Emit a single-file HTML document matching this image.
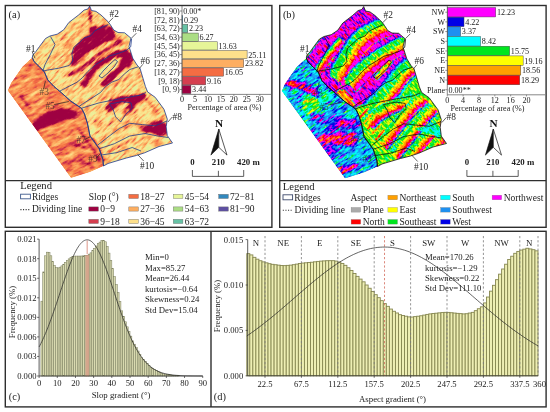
<!DOCTYPE html><html><head><meta charset="utf-8"><title>Slope and aspect</title>
<style>html,body{margin:0;padding:0;background:#fff}svg{display:block}</style></head><body>
<svg width="550" height="412" viewBox="0 0 550 412">
<rect width="550" height="412" fill="#fff"/>
<defs>
<clipPath id="mapclip"><polygon points="7.7,90.5 11.0,83.0 15.9,76.0 22.5,66.5 32.3,57.5 32.8,55.0 36.0,51.4 39.5,46.5 45.5,38.5 50.0,36.0 57.2,34.2 63.7,29.8 68.8,22.5 78.3,15.2 84.1,10.1 87.9,9.0 89.7,6.0 91.5,10.5 96.0,11.4 101.0,15.0 108.2,21.8 110.5,25.0 113.7,30.0 118.0,32.5 124.6,32.8 131.0,38.2 129.0,46.4 132.8,58.3 137.0,65.0 140.0,68.3 145.4,86.4 147.6,91.9 155.2,97.3 164.0,109.3 167.3,119.2 166.2,126.8 167.3,135.6 172.5,143.0 159.0,146.5 144.6,152.8 136.4,155.5 126.4,158.0 108.0,163.5 103.5,166.0 98.0,168.5 90.0,172.0 71.0,178.0"/></clipPath>
<clipPath id="neclip"><polygon points="32.3,57.5 32.8,55.0 36.0,51.4 39.5,46.5 45.5,38.5 50.0,36.0 57.2,34.2 63.7,29.8 68.8,22.5 78.3,15.2 84.1,10.1 87.9,9.0 89.7,6.0 91.5,10.5 96.0,11.4 101.0,15.0 108.2,21.8 110.5,25.0 113.7,30.0 118.0,32.5 124.6,32.8 131.0,38.2 129.0,46.4 132.8,58.3 137.0,65.0 140.0,68.3 145.4,86.4 147.6,91.9 155.2,97.3 164.0,109.3 167.3,119.2 166.2,126.8 167.3,135.6 172.5,143.0 159.0,146.5 144.6,152.8 136.4,155.5 126.4,158.0 108.0,163.5 103.5,166.0 102.9,159.6 99.2,148.7 90.0,136.0 87.4,123.2 84.5,114.0 81.5,108.3 70.6,101.0 61.5,92.8 54.0,86.5 47.8,80.0 44.2,71.5 39.6,67.0 34.0,61.5 32.3,57.5"/></clipPath>
<clipPath id="swclip"><polygon points="7.7,90.5 11.0,83.0 15.9,76.0 22.5,66.5 32.3,57.5 34.0,61.5 39.6,67.0 44.2,71.5 47.8,80.0 54.0,86.5 61.5,92.8 70.6,101.0 81.5,108.3 84.5,114.0 87.4,123.2 90.0,136.0 99.2,148.7 102.9,159.6 103.5,166.0 98.0,168.5 90.0,172.0 71.0,178.0"/></clipPath>
<filter id="fa1" filterUnits="userSpaceOnUse" x="-150" y="-150" width="500" height="500" color-interpolation-filters="sRGB">
<feGaussianBlur in="SourceGraphic" stdDeviation="1.1" result="s"/>
<feTurbulence type="fractalNoise" baseFrequency="0.10 0.5" numOctaves="3" seed="4" result="t"/>
<feColorMatrix in="t" type="matrix" values="1 0 0 0 0  1 0 0 0 0  1 0 0 0 0  0 0 0 0 1" result="n"/>
<feComposite in="s" in2="n" operator="arithmetic" k1="0" k2="1" k3="1.15" k4="-0.575" result="f"/>
<feComponentTransfer in="f"><feFuncR type="table" tableValues="0.620 0.620 0.659 0.835 0.957 0.976 0.992 0.992 0.996 0.949 0.886"/><feFuncG type="table" tableValues="0.004 0.004 0.039 0.243 0.427 0.569 0.682 0.784 0.878 0.933 0.941"/><feFuncB type="table" tableValues="0.259 0.259 0.267 0.310 0.263 0.325 0.380 0.467 0.545 0.596 0.604"/></feComponentTransfer><feGaussianBlur stdDeviation="0.45"/>
</filter>
<filter id="fa2" filterUnits="userSpaceOnUse" x="-150" y="-150" width="500" height="500" color-interpolation-filters="sRGB">
<feGaussianBlur in="SourceGraphic" stdDeviation="1.1" result="s"/>
<feTurbulence type="fractalNoise" baseFrequency="0.12 0.38" numOctaves="3" seed="11" result="t"/>
<feColorMatrix in="t" type="matrix" values="1 0 0 0 0  1 0 0 0 0  1 0 0 0 0  0 0 0 0 1" result="n"/>
<feComposite in="s" in2="n" operator="arithmetic" k1="0" k2="1" k3="0.62" k4="-0.310" result="f"/>
<feComponentTransfer in="f"><feFuncR type="table" tableValues="0.620 0.620 0.659 0.835 0.957 0.976 0.992 0.992 0.996 0.949 0.886"/><feFuncG type="table" tableValues="0.004 0.004 0.039 0.243 0.427 0.569 0.682 0.784 0.878 0.933 0.941"/><feFuncB type="table" tableValues="0.259 0.259 0.267 0.310 0.263 0.325 0.380 0.467 0.545 0.596 0.604"/></feComponentTransfer><feGaussianBlur stdDeviation="0.45"/>
</filter>
<filter id="fb1" filterUnits="userSpaceOnUse" x="-150" y="-150" width="500" height="500" color-interpolation-filters="sRGB">
<feGaussianBlur in="SourceGraphic" stdDeviation="0.7" result="s"/>
<feTurbulence type="fractalNoise" baseFrequency="0.14 0.6" numOctaves="3" seed="7" result="t"/>
<feColorMatrix in="t" type="matrix" values="1 0 0 0 0  1 0 0 0 0  1 0 0 0 0  0 0 0 0 1" result="n"/>
<feComposite in="s" in2="n" operator="arithmetic" k1="0" k2="1" k3="0.42" k4="-0.210" result="f"/>
<feComponentTransfer in="f"><feFuncR type="table" tableValues="1.000 1.000 1.000 1.000 1.000 1.000 1.000 1.000 1.000 1.000 1.000 1.000 1.000 1.000 0.502 0.000 0.000 0.000 0.000 0.000 0.000 0.000 0.059 0.118 0.118 0.118 0.059 0.000 0.000 0.000 0.502 1.000 1.000 1.000 1.000 1.000 1.000 1.000 1.000 1.000 1.000"/><feFuncG type="table" tableValues="0.000 0.000 0.000 0.000 0.000 0.000 0.314 0.627 0.627 0.627 0.816 1.000 1.000 1.000 0.949 0.902 0.902 0.902 0.949 1.000 1.000 1.000 0.784 0.565 0.565 0.565 0.282 0.000 0.000 0.000 0.000 0.000 0.000 0.000 0.000 0.000 0.000 0.000 0.314 0.627 0.627"/><feFuncB type="table" tableValues="1.000 1.000 0.502 0.000 0.000 0.000 0.000 0.000 0.000 0.000 0.000 0.000 0.000 0.000 0.059 0.118 0.118 0.118 0.557 1.000 1.000 1.000 0.973 0.941 0.941 0.941 0.922 0.902 0.902 0.902 0.949 1.000 1.000 1.000 0.502 0.000 0.000 0.000 0.000 0.000 0.000"/></feComponentTransfer><feGaussianBlur stdDeviation="0.45"/>
</filter>
<filter id="fb2" filterUnits="userSpaceOnUse" x="-150" y="-150" width="500" height="500" color-interpolation-filters="sRGB">
<feGaussianBlur in="SourceGraphic" stdDeviation="0.9" result="s"/>
<feTurbulence type="fractalNoise" baseFrequency="0.10 0.5" numOctaves="3" seed="21" result="t"/>
<feColorMatrix in="t" type="matrix" values="1 0 0 0 0  1 0 0 0 0  1 0 0 0 0  0 0 0 0 1" result="n"/>
<feComposite in="s" in2="n" operator="arithmetic" k1="0" k2="1" k3="0.75" k4="-0.375" result="f"/>
<feComponentTransfer in="f"><feFuncR type="table" tableValues="1.000 1.000 1.000 1.000 1.000 1.000 1.000 1.000 1.000 1.000 1.000 1.000 1.000 1.000 0.502 0.000 0.000 0.000 0.000 0.000 0.000 0.000 0.059 0.118 0.118 0.118 0.059 0.000 0.000 0.000 0.502 1.000 1.000 1.000 1.000 1.000 1.000 1.000 1.000 1.000 1.000"/><feFuncG type="table" tableValues="0.000 0.000 0.000 0.000 0.000 0.000 0.314 0.627 0.627 0.627 0.816 1.000 1.000 1.000 0.949 0.902 0.902 0.902 0.949 1.000 1.000 1.000 0.784 0.565 0.565 0.565 0.282 0.000 0.000 0.000 0.000 0.000 0.000 0.000 0.000 0.000 0.000 0.000 0.314 0.627 0.627"/><feFuncB type="table" tableValues="1.000 1.000 0.502 0.000 0.000 0.000 0.000 0.000 0.000 0.000 0.000 0.000 0.000 0.000 0.059 0.118 0.118 0.118 0.557 1.000 1.000 1.000 0.973 0.941 0.941 0.941 0.922 0.902 0.902 0.902 0.949 1.000 1.000 1.000 0.502 0.000 0.000 0.000 0.000 0.000 0.000"/></feComponentTransfer><feGaussianBlur stdDeviation="0.45"/>
</filter>
</defs>
<g clip-path="url(#mapclip)">
<polygon points="7.7,90.5 11.0,83.0 15.9,76.0 22.5,66.5 32.3,57.5 32.8,55.0 36.0,51.4 39.5,46.5 45.5,38.5 50.0,36.0 57.2,34.2 63.7,29.8 68.8,22.5 78.3,15.2 84.1,10.1 87.9,9.0 89.7,6.0 91.5,10.5 96.0,11.4 101.0,15.0 108.2,21.8 110.5,25.0 113.7,30.0 118.0,32.5 124.6,32.8 131.0,38.2 129.0,46.4 132.8,58.3 137.0,65.0 140.0,68.3 145.4,86.4 147.6,91.9 155.2,97.3 164.0,109.3 167.3,119.2 166.2,126.8 167.3,135.6 172.5,143.0 159.0,146.5 144.6,152.8 136.4,155.5 126.4,158.0 108.0,163.5 103.5,166.0 98.0,168.5 90.0,172.0 71.0,178.0" fill="#f7b366"/>
<g clip-path="url(#neclip)"><g transform="rotate(-42 90 90)"><g filter="url(#fa1)"><g transform="rotate(42 90 90)">
<rect x="0" y="0" width="200" height="200" fill="#bfbfbf"/>
<polygon points="90.3,28.7 97.6,27.9 107.5,25.5 112.4,29.5 114.8,35.3 112.4,39.4 104.2,41.8 97.6,45.9 91.1,50.0 84.5,54.1 79.6,59.0 75.5,64.7 72.3,65.6 73.9,57.4 73.1,51.6 76.4,45.9 80.5,40.2 86.2,37.7 90.3,33.6" fill="#000000" stroke="#000000" stroke-width="2.0" stroke-linejoin="round"/>
<path d="M89.7 6 L90.3 21" stroke="#000000" stroke-width="3.4" fill="none" stroke-linecap="round"/>
<path d="M121 40.5 L111 46.5 L102 52 L94.5 58 L87 64 L79.8 69.5 L70 75" stroke="#0d0d0d" stroke-width="3.2" fill="none" stroke-linecap="round"/>
<path d="M127 56 L126 61 L117.5 71 L109.5 79 L104 84" stroke="#000000" stroke-width="6.4" fill="none" stroke-linecap="round" stroke-linejoin="round"/>
<path d="M126 55 L119 53.5 L111 56 L102 62 L94.5 68 L88 77.5 L84 84" stroke="#000000" stroke-width="6.4" fill="none" stroke-linecap="round" stroke-linejoin="round"/>
<path d="M125 53.5 L129.5 58 L126 63" stroke="#000000" stroke-width="9" fill="none" stroke-linecap="round" stroke-linejoin="round"/>
<path d="M101 74 L108.5 67 L114.5 60.5" stroke="#d9d9d9" stroke-width="5" fill="none" stroke-linecap="round"/>
<polygon points="106.3,107.9 111.2,100.5 121.0,97.3 132.5,96.5 142.3,94.0 144.7,96.5 139.0,101.4 134.0,106.3 130.8,109.5 128.4,107.0 131.6,101.4 124.3,100.5 117.7,103.8 112.8,108.7 109.5,111.2" fill="#000000" stroke="#000000" stroke-width="2.5" stroke-linejoin="round"/>
<path d="M128.4 104.6 L125 111 L121.8 117.7" stroke="#262626" stroke-width="1.6" fill="none"/>
<polygon points="140.6,127.5 150.5,125.9 157.0,121.8 162.0,122.6 166.0,125.0 166.8,134.0 162.0,135.7 153.7,132.5 147.2,130.8 142.3,130.0" fill="#000000" stroke="#000000" stroke-width="2.5" stroke-linejoin="round"/>
<path d="M92 140 L98 150 L102 160" stroke="#2e2e2e" stroke-width="5" fill="none" stroke-linecap="round"/>
<path d="M50 62 L64 48 L78 34 L86 22" stroke="#737373" stroke-width="2.2" fill="none" stroke-linecap="round"/>
<path d="M58 66 L70 55" stroke="#737373" stroke-width="2.2" fill="none" stroke-linecap="round"/>
<path d="M112 88 L128 76 L140 72" stroke="#737373" stroke-width="2.2" fill="none" stroke-linecap="round"/>
<path d="M100 100 L112 92" stroke="#737373" stroke-width="2.2" fill="none" stroke-linecap="round"/>
<path d="M108 125 L124 116 L138 110" stroke="#737373" stroke-width="2.2" fill="none" stroke-linecap="round"/>
<path d="M100 140 L118 130 L136 122" stroke="#737373" stroke-width="2.2" fill="none" stroke-linecap="round"/>
<path d="M108 152 L128 142 L150 136" stroke="#737373" stroke-width="2.2" fill="none" stroke-linecap="round"/>
<path d="M60 40 L75 24" stroke="#737373" stroke-width="2.2" fill="none" stroke-linecap="round"/>
<path d="M146 100 L158 112" stroke="#737373" stroke-width="2.2" fill="none" stroke-linecap="round"/>
<path d="M120 45 L128 42" stroke="#737373" stroke-width="2.2" fill="none" stroke-linecap="round"/>
</g></g></g></g>
<g clip-path="url(#swclip)"><g transform="rotate(-25 90 90)"><g filter="url(#fa2)"><g transform="rotate(25 90 90)">
<rect x="0" y="0" width="200" height="200" fill="#757575"/>
<polygon points="34.1,122.8 41.4,118.3 50.5,112.8 59.6,110.1 68.8,111.0 75.1,112.8 74.2,116.5 65.1,118.3 57.8,121.0 50.5,123.8 44.2,127.4 39.6,130.1 34.1,128.3" fill="#000000" stroke="#000000" stroke-width="3" stroke-linejoin="round"/>
<path d="M14 92 L26 80 L36 76" stroke="#b8b8b8" stroke-width="2.6" fill="none" stroke-linecap="round"/>
<path d="M22 104 L36 92 L48 90" stroke="#b8b8b8" stroke-width="2.6" fill="none" stroke-linecap="round"/>
<path d="M40 130 L56 128 L70 122 L82 124" stroke="#b8b8b8" stroke-width="2.6" fill="none" stroke-linecap="round"/>
<path d="M52 146 L66 138 L80 136" stroke="#b8b8b8" stroke-width="2.6" fill="none" stroke-linecap="round"/>
<path d="M62 160 L78 150 L92 152" stroke="#b8b8b8" stroke-width="2.6" fill="none" stroke-linecap="round"/>
<path d="M30 112 L44 100" stroke="#b8b8b8" stroke-width="2.6" fill="none" stroke-linecap="round"/>
<path d="M78 128 L86 140 L94 150 L99 160" stroke="#333333" stroke-width="2.6" fill="none" stroke-linecap="round"/>
<path d="M60 150 Q72 140 84 148" stroke="#333333" stroke-width="2.6" fill="none" stroke-linecap="round"/>
<path d="M20 96 L30 108" stroke="#333333" stroke-width="2.6" fill="none" stroke-linecap="round"/>
<path d="M64 164 L80 160 L92 166" stroke="#333333" stroke-width="2.6" fill="none" stroke-linecap="round"/>
</g></g></g></g>
</g>
<g fill="none" stroke="#1f3a8a" stroke-width="0.8" stroke-linejoin="round">
<polygon points="32.3,57.5 32.8,55.0 36.0,51.4 39.5,46.5 45.5,38.5 50.0,36.0 57.2,34.2 63.7,29.8 68.8,22.5 78.3,15.2 84.1,10.1 87.9,9.0 89.7,6.0 91.5,10.5 96.0,11.4 101.0,15.0 108.2,21.8 110.5,25.0 113.7,30.0 118.0,32.5 124.6,32.8 131.0,38.2 129.0,46.4 132.8,58.3 137.0,65.0 140.0,68.3 145.4,86.4 147.6,91.9 155.2,97.3 164.0,109.3 167.3,119.2 166.2,126.8 167.3,135.6 172.5,143.0 159.0,146.5 144.6,152.8 136.4,155.5 126.4,158.0 108.0,163.5 103.5,166.0 102.9,159.6 99.2,148.7 90.0,136.0 87.4,123.2 84.5,114.0 81.5,108.3 70.6,101.0 61.5,92.8 54.0,86.5 47.8,80.0 44.2,71.5 39.6,67.0 34.0,61.5 32.3,57.5"/>
<polyline points="32.3,57.5 34.0,61.5 39.6,67.0 44.2,71.5 47.8,80.0 54.0,86.5 61.5,92.8 70.6,101.0 81.5,108.3 84.5,114.0 87.4,123.2 90.0,136.0 99.2,148.7 102.9,159.6 103.5,166.0"/>
<polyline points="108.4,24.5 102.0,27.3 94.7,30.9 91.1,35.5 83.8,38.2 79.2,42.8 73.8,47.3 71.9,53.7 72.9,61.0 69.2,65.5 58.3,68.3 47.4,70.1 42.8,71.0"/>
<polyline points="50.5,36.5 55.0,44.5 50.5,54.0 45.0,64.6 42.8,71.0"/>
<polyline points="131.6,38.6 130.7,46.8 126.1,50.5 118.8,53.2 109.7,55.9 102.4,60.5 95.1,65.0 87.9,71.4 82.4,77.8 76.9,82.3 69.6,86.0 60.0,91.0"/>
<polyline points="138.0,66.9 129.8,69.5 124.3,74.1 118.8,79.5 111.5,82.3 105.2,86.9 100.6,92.4 92.0,98.0 84.0,103.0 79.0,106.5"/>
<polyline points="81.5,108.3 86.3,106.7 99.0,102.9 111.8,100.3 125.8,97.8 139.9,95.2 146.0,92.5"/>
<polyline points="109.3,104.1 122.0,101.6 131.0,102.9 132.2,108.0 125.8,114.3 120.7,122.0 115.6,116.9 113.1,109.2 109.3,104.1"/>
<polyline points="97.8,145.0 109.3,136.0 119.5,128.4 129.7,123.3 142.4,124.6 155.2,125.8 167.0,121.0"/>
<polyline points="99.0,148.8 114.4,143.7 129.7,136.0 145.0,133.5 157.7,136.0 168.0,137.5"/>
<polyline points="100.3,155.2 116.9,152.6 132.2,147.5 141.0,151.0"/>
<polyline points="99.0,76.0 104.0,70.0 110.0,64.0 115.0,59.5 117.5,61.5 114.0,67.0 108.0,73.0 102.0,78.0 99.0,76.0"/>
</g>
<g font-family='"Liberation Serif", serif' font-size="9.4" fill="#222">
<text x="26" y="51.6">#1</text>
<text x="109.6" y="17.3">#2</text>
<text x="132.6" y="32.3">#4</text>
<text x="140.5" y="63.7">#6</text>
<text x="172.5" y="119.8">#8</text>
<text x="140" y="169.2">#10</text>
<text x="39.6" y="95" fill-opacity="0.7">#3</text>
<text x="45.4" y="109.2" fill-opacity="0.7">#5</text>
<text x="76.4" y="142.7" fill-opacity="0.7">#7</text>
<text x="88.3" y="161.8" fill-opacity="0.7">#9</text>
</g>
<g stroke="#222" stroke-width="0.7" fill="none"><path d="M32.3 52 L35 58.2"/><path d="M113.2 17.7 L108.6 22.3"/><path d="M136.4 33.2 L131.4 38.2"/><path d="M142.8 64.3 L138.8 69.2"/><path d="M172.3 117 L167.9 122"/><path d="M143.7 161 L137.7 154.6"/><path d="M45.4 81 L43.6 89"/><path d="M54.2 104.6 L68.8 101.5"/><path d="M84.6 139.6 L90 136.9"/><path d="M96.5 157.8 L100 154"/></g>
<g transform="translate(274,0.5)">
<g clip-path="url(#mapclip)">
<polygon points="7.7,90.5 11.0,83.0 15.9,76.0 22.5,66.5 32.3,57.5 32.8,55.0 36.0,51.4 39.5,46.5 45.5,38.5 50.0,36.0 57.2,34.2 63.7,29.8 68.8,22.5 78.3,15.2 84.1,10.1 87.9,9.0 89.7,6.0 91.5,10.5 96.0,11.4 101.0,15.0 108.2,21.8 110.5,25.0 113.7,30.0 118.0,32.5 124.6,32.8 131.0,38.2 129.0,46.4 132.8,58.3 137.0,65.0 140.0,68.3 145.4,86.4 147.6,91.9 155.2,97.3 164.0,109.3 167.3,119.2 166.2,126.8 167.3,135.6 172.5,143.0 159.0,146.5 144.6,152.8 136.4,155.5 126.4,158.0 108.0,163.5 103.5,166.0 98.0,168.5 90.0,172.0 71.0,178.0" fill="#80c060"/>
<g clip-path="url(#neclip)"><g transform="rotate(45 90 90)"><g filter="url(#fb1)"><g transform="rotate(-45 90 90)">
<rect x="0" y="0" width="200" height="200" fill="#5c5c5c"/>
<polygon points="20,75 60,20 95,0 140,35 120,75 95,100 80,108 60,95" fill="#cccccc"/>
<polyline points="40.9,66.9 43.6,63.4 52.4,51.5 59.7,42.8 64.1,36.9" fill="none" stroke="#b2b2b2" stroke-width="1.8" stroke-linecap="round" stroke-linejoin="round"/>
<polyline points="41.5,67.5 44.2,64.0 53.0,52.1 60.3,43.4 64.7,37.5" fill="none" stroke="#8c8c8c" stroke-width="1.5" stroke-linecap="round" stroke-linejoin="round"/>
<polyline points="42.4,68.4 45.1,64.9 53.9,53.0 61.1,44.3 65.5,38.4" fill="none" stroke="#666666" stroke-width="2.6" stroke-linecap="round" stroke-linejoin="round"/>
<polyline points="43.3,69.3 46.0,65.8 54.8,53.9 62.1,45.2 66.5,39.3" fill="none" stroke="#4c4c4c" stroke-width="1.8" stroke-linecap="round" stroke-linejoin="round"/>
<polyline points="44.1,70.1 46.8,66.6 55.6,54.7 62.9,46.0 67.3,40.1" fill="none" stroke="#333333" stroke-width="2.0" stroke-linecap="round" stroke-linejoin="round"/>
<polyline points="45.0,71.0 47.7,67.5 56.5,55.6 63.8,46.9 68.2,41.0" fill="none" stroke="#1a1a1a" stroke-width="2.1" stroke-linecap="round" stroke-linejoin="round"/>
<polyline points="46.3,72.4 49.0,68.9 57.8,57.0 65.1,48.3 69.5,42.4" fill="none" stroke="#000000" stroke-width="3.3" stroke-linecap="round" stroke-linejoin="round"/>
<polyline points="55.9,69.8 57.9,65.8 61.1,60.3 68.3,48.4 75.6,36.7 84.4,28.0 94.6,22.2 103.3,19.3" fill="none" stroke="#b2b2b2" stroke-width="2.3" stroke-linecap="round" stroke-linejoin="round"/>
<polyline points="57.0,70.9 59.0,66.9 62.2,61.4 69.4,49.5 76.7,37.8 85.5,29.1 95.7,23.3 104.4,20.4" fill="none" stroke="#8c8c8c" stroke-width="2.3" stroke-linecap="round" stroke-linejoin="round"/>
<polyline points="59.9,73.9 61.9,69.9 65.1,64.4 72.3,52.5 79.6,40.8 88.4,32.1 98.6,26.3 107.3,23.4" fill="none" stroke="#666666" stroke-width="7.8" stroke-linecap="round" stroke-linejoin="round"/>
<polyline points="63.4,77.5 65.4,73.5 68.6,68.0 75.8,56.1 83.1,44.4 91.9,35.7 102.1,29.9 110.8,27.0" fill="none" stroke="#4c4c4c" stroke-width="3.8" stroke-linecap="round" stroke-linejoin="round"/>
<polyline points="65.5,79.6 67.5,75.6 70.7,70.1 77.9,58.2 85.2,46.5 94.0,37.8 104.2,32.0 112.9,29.1" fill="none" stroke="#333333" stroke-width="3.8" stroke-linecap="round" stroke-linejoin="round"/>
<polyline points="67.1,81.2 69.1,77.2 72.3,71.7 79.5,59.8 86.8,48.1 95.6,39.4 105.8,33.6 114.5,30.7" fill="none" stroke="#1a1a1a" stroke-width="2.3" stroke-linecap="round" stroke-linejoin="round"/>
<polyline points="69.2,83.3 71.2,79.3 74.4,73.8 81.6,61.9 88.9,50.2 97.7,41.5 107.9,35.7 116.6,32.8" fill="none" stroke="#000000" stroke-width="5.3" stroke-linecap="round" stroke-linejoin="round"/>
<polyline points="71.1,78.1 75.1,73.1 82.7,64.7 92.9,56.0 103.1,48.7 111.8,44.3 117.7,40.7 125.1,37.1" fill="none" stroke="#b2b2b2" stroke-width="1.8" stroke-linecap="round" stroke-linejoin="round"/>
<polyline points="71.8,78.8 75.8,73.8 83.4,65.4 93.6,56.7 103.8,49.4 112.5,45.0 118.4,41.4 125.8,37.8" fill="none" stroke="#8c8c8c" stroke-width="1.8" stroke-linecap="round" stroke-linejoin="round"/>
<polyline points="74.3,81.3 78.3,76.3 85.9,67.9 96.1,59.2 106.3,51.9 115.0,47.5 120.9,43.9 128.3,40.3" fill="none" stroke="#666666" stroke-width="6.8" stroke-linecap="round" stroke-linejoin="round"/>
<polyline points="77.1,84.1 81.1,79.1 88.7,70.7 98.9,62.0 109.1,54.7 117.8,50.3 123.7,46.7 131.1,43.1" fill="none" stroke="#4c4c4c" stroke-width="2.8" stroke-linecap="round" stroke-linejoin="round"/>
<polyline points="78.7,85.7 82.7,80.7 90.3,72.3 100.5,63.6 110.7,56.3 119.4,51.9 125.3,48.3 132.7,44.7" fill="none" stroke="#333333" stroke-width="3.3" stroke-linecap="round" stroke-linejoin="round"/>
<polyline points="80.1,87.1 84.1,82.1 91.7,73.7 101.9,65.0 112.1,57.7 120.8,53.3 126.7,49.7 134.1,46.1" fill="none" stroke="#1a1a1a" stroke-width="2.3" stroke-linecap="round" stroke-linejoin="round"/>
<polyline points="82.0,89.1 86.0,84.1 93.6,75.7 103.8,67.0 114.0,59.7 122.7,55.3 128.6,51.7 136.0,48.1" fill="none" stroke="#000000" stroke-width="4.8" stroke-linecap="round" stroke-linejoin="round"/>
<polyline points="84.0,96.0 92.0,88.0 100.0,80.0" fill="none" stroke="#cccccc" stroke-width="9" stroke-linecap="round" stroke-linejoin="round"/>
<polyline points="103.0,78.0 110.0,70.0 117.0,62.5" fill="none" stroke="#333333" stroke-width="3.5" stroke-linecap="round" stroke-linejoin="round"/>
<polyline points="101.5,76.5 108.5,68.5 115.5,61.0" fill="none" stroke="#4c4c4c" stroke-width="2" stroke-linecap="round" stroke-linejoin="round"/>
<polyline points="88.3,101.2 92.8,95.8 103.0,85.6 111.8,75.4 117.6,66.7 123.4,60.8 130.3,56.2" fill="none" stroke="#cccccc" stroke-width="4.8" stroke-linecap="round" stroke-linejoin="round"/>
<polyline points="90.2,103.1 94.7,97.7 104.9,87.5 113.7,77.3 119.5,68.6 125.3,62.7 132.2,58.1" fill="none" stroke="#b2b2b2" stroke-width="2.3" stroke-linecap="round" stroke-linejoin="round"/>
<polyline points="91.4,104.4 95.9,99.0 106.1,88.8 114.9,78.6 120.7,69.9 126.5,64.0 133.4,59.4" fill="none" stroke="#8c8c8c" stroke-width="2.8" stroke-linecap="round" stroke-linejoin="round"/>
<polyline points="94.9,107.9 99.4,102.5 109.6,92.3 118.4,82.1 124.2,73.4 130.0,67.5 136.9,62.9" fill="none" stroke="#666666" stroke-width="8.8" stroke-linecap="round" stroke-linejoin="round"/>
<polyline points="98.6,111.7 103.1,106.3 113.3,96.1 122.1,85.9 127.9,77.2 133.7,71.3 140.6,66.7" fill="none" stroke="#4c4c4c" stroke-width="3.3" stroke-linecap="round" stroke-linejoin="round"/>
<polyline points="100.4,113.4 104.9,108.0 115.1,97.8 123.9,87.6 129.7,78.9 135.5,73.0 142.4,68.4" fill="none" stroke="#333333" stroke-width="3.3" stroke-linecap="round" stroke-linejoin="round"/>
<polyline points="101.8,114.9 106.3,109.5 116.5,99.3 125.3,89.1 131.1,80.4 136.9,74.5 143.8,69.9" fill="none" stroke="#1a1a1a" stroke-width="2.3" stroke-linecap="round" stroke-linejoin="round"/>
<polyline points="103.0,116.1 107.5,110.7 117.7,100.5 126.5,90.3 132.3,81.6 138.1,75.7 145.0,71.1" fill="none" stroke="#000000" stroke-width="2.8" stroke-linecap="round" stroke-linejoin="round"/>
<polyline points="104.0,117.2 108.5,111.8 118.7,101.6 127.5,91.4 133.3,82.7 139.1,76.8 146.0,72.2" fill="none" stroke="#b2b2b2" stroke-width="1.8" stroke-linecap="round" stroke-linejoin="round"/>
<polyline points="104.7,117.9 109.2,112.5 119.4,102.3 128.2,92.1 134.0,83.4 139.8,77.5 146.7,72.9" fill="none" stroke="#8c8c8c" stroke-width="1.8" stroke-linecap="round" stroke-linejoin="round"/>
<polyline points="66.0,92.0 72.0,98.0 78.0,104.0" fill="none" stroke="#333333" stroke-width="6" stroke-linecap="round" stroke-linejoin="round"/>
<polyline points="70.0,90.0 78.0,98.0" fill="none" stroke="#1a1a1a" stroke-width="3" stroke-linecap="round" stroke-linejoin="round"/>
<polyline points="90.2,118.2 98.2,110.2 110.2,103.2 124.2,98.2 138.2,94.2" fill="none" stroke="#8c8c8c" stroke-width="1.8" stroke-linecap="round" stroke-linejoin="round"/>
<polyline points="92.1,120.1 100.1,112.1 112.1,105.1 126.1,100.1 140.1,96.1" fill="none" stroke="#666666" stroke-width="5.3" stroke-linecap="round" stroke-linejoin="round"/>
<polyline points="94.6,122.6 102.6,114.6 114.6,107.6 128.6,102.6 142.6,98.6" fill="none" stroke="#4c4c4c" stroke-width="3.3" stroke-linecap="round" stroke-linejoin="round"/>
<polyline points="96.3,124.4 104.3,116.4 116.3,109.4 130.3,104.4 144.3,100.4" fill="none" stroke="#333333" stroke-width="3.3" stroke-linecap="round" stroke-linejoin="round"/>
<polyline points="97.8,125.9 105.8,117.9 117.8,110.9 131.8,105.9 145.8,101.9" fill="none" stroke="#1a1a1a" stroke-width="2.6" stroke-linecap="round" stroke-linejoin="round"/>
<polyline points="99.0,127.1 107.0,119.1 119.0,112.1 133.0,107.1 147.0,103.1" fill="none" stroke="#000000" stroke-width="2.5" stroke-linecap="round" stroke-linejoin="round"/>
<polyline points="99.9,128.0 107.9,120.0 119.9,113.0 133.9,108.0 147.9,104.0" fill="none" stroke="#b2b2b2" stroke-width="1.5" stroke-linecap="round" stroke-linejoin="round"/>
<polyline points="105.0,140.0 111.0,132.0 120.0,120.0 129.0,109.0 137.0,100.0 145.0,94.0" fill="none" stroke="#8c8c8c" stroke-width="1.5" stroke-linecap="round" stroke-linejoin="round"/>
<polyline points="106.3,141.3 112.3,133.3 121.3,121.3 130.3,110.3 138.3,101.3 146.3,95.3" fill="none" stroke="#666666" stroke-width="3.8" stroke-linecap="round" stroke-linejoin="round"/>
<polyline points="108.2,143.2 114.2,135.2 123.2,123.2 132.2,112.2 140.2,103.2 148.2,97.2" fill="none" stroke="#4c4c4c" stroke-width="3.3" stroke-linecap="round" stroke-linejoin="round"/>
<polyline points="110.0,145.0 116.0,137.0 125.0,125.0 134.0,114.0 142.0,105.0 150.0,99.0" fill="none" stroke="#333333" stroke-width="3.3" stroke-linecap="round" stroke-linejoin="round"/>
<polyline points="111.5,146.6 117.5,138.6 126.5,126.6 135.5,115.6 143.5,106.6 151.5,100.6" fill="none" stroke="#1a1a1a" stroke-width="2.8" stroke-linecap="round" stroke-linejoin="round"/>
<polyline points="112.9,148.0 118.9,140.0 127.9,128.0 136.9,117.0 144.9,108.0 152.9,102.0" fill="none" stroke="#000000" stroke-width="2.8" stroke-linecap="round" stroke-linejoin="round"/>
<polyline points="113.9,149.0 119.9,141.0 128.9,129.0 137.9,118.0 145.9,109.0 153.9,103.0" fill="none" stroke="#b2b2b2" stroke-width="1.5" stroke-linecap="round" stroke-linejoin="round"/>
<polyline points="117.0,151.0 127.0,138.0 139.0,123.0 149.0,110.0 156.0,104.0" fill="none" stroke="#8c8c8c" stroke-width="1.5" stroke-linecap="round" stroke-linejoin="round"/>
<polyline points="118.3,152.3 128.3,139.3 140.3,124.3 150.3,111.3 157.3,105.3" fill="none" stroke="#666666" stroke-width="3.8" stroke-linecap="round" stroke-linejoin="round"/>
<polyline points="120.2,154.2 130.2,141.2 142.2,126.2 152.2,113.2 159.2,107.2" fill="none" stroke="#4c4c4c" stroke-width="3.3" stroke-linecap="round" stroke-linejoin="round"/>
<polyline points="121.8,155.9 131.8,142.9 143.8,127.9 153.8,114.9 160.8,108.9" fill="none" stroke="#333333" stroke-width="3.0" stroke-linecap="round" stroke-linejoin="round"/>
<polyline points="123.2,157.3 133.2,144.3 145.2,129.3 155.2,116.3 162.2,110.3" fill="none" stroke="#1a1a1a" stroke-width="2.6" stroke-linecap="round" stroke-linejoin="round"/>
<polyline points="124.4,158.5 134.4,145.5 146.4,130.5 156.4,117.5 163.4,111.5" fill="none" stroke="#000000" stroke-width="2.3" stroke-linecap="round" stroke-linejoin="round"/>
<polyline points="125.2,159.3 135.2,146.3 147.2,131.3 157.2,118.3 164.2,112.3" fill="none" stroke="#b2b2b2" stroke-width="1.5" stroke-linecap="round" stroke-linejoin="round"/>
<polyline points="132.3,156.3 142.3,144.3 152.3,132.3 160.3,122.3 166.3,116.3" fill="none" stroke="#666666" stroke-width="3.8" stroke-linecap="round" stroke-linejoin="round"/>
<polyline points="134.2,158.2 144.2,146.2 154.2,134.2 162.2,124.2 168.2,118.2" fill="none" stroke="#4c4c4c" stroke-width="3.3" stroke-linecap="round" stroke-linejoin="round"/>
<polyline points="135.8,159.8 145.8,147.8 155.8,135.8 163.8,125.8 169.8,119.8" fill="none" stroke="#333333" stroke-width="2.8" stroke-linecap="round" stroke-linejoin="round"/>
<polyline points="137.0,161.1 147.0,149.1 157.0,137.1 165.0,127.1 171.0,121.1" fill="none" stroke="#1a1a1a" stroke-width="2.3" stroke-linecap="round" stroke-linejoin="round"/>
<polyline points="137.9,162.0 147.9,150.0 157.9,138.0 165.9,128.0 171.9,122.0" fill="none" stroke="#000000" stroke-width="1.9" stroke-linecap="round" stroke-linejoin="round"/>
<polyline points="150.3,154.3 160.3,142.3 170.3,130.3" fill="none" stroke="#666666" stroke-width="4.8" stroke-linecap="round" stroke-linejoin="round"/>
<polyline points="152.4,156.4 162.4,144.4 172.4,132.4" fill="none" stroke="#4c4c4c" stroke-width="2.8" stroke-linecap="round" stroke-linejoin="round"/>
<polyline points="153.8,157.8 163.8,145.8 173.8,133.8" fill="none" stroke="#333333" stroke-width="2.8" stroke-linecap="round" stroke-linejoin="round"/>
<polyline points="155.2,159.3 165.2,147.3 175.2,135.3" fill="none" stroke="#1a1a1a" stroke-width="2.8" stroke-linecap="round" stroke-linejoin="round"/>
<polyline points="86.0,117.0 94.0,108.0" fill="none" stroke="#1a1a1a" stroke-width="2.0" stroke-linecap="round" stroke-linejoin="round"/>
<polyline points="90.0,122.5 98.0,113.5" fill="none" stroke="#333333" stroke-width="2.0" stroke-linecap="round" stroke-linejoin="round"/>
<polyline points="94.0,128.0 102.0,119.0" fill="none" stroke="#1a1a1a" stroke-width="2.0" stroke-linecap="round" stroke-linejoin="round"/>
<polyline points="98.0,133.5 106.0,124.5" fill="none" stroke="#333333" stroke-width="2.0" stroke-linecap="round" stroke-linejoin="round"/>
<polyline points="102.0,139.0 110.0,130.0" fill="none" stroke="#1a1a1a" stroke-width="2.0" stroke-linecap="round" stroke-linejoin="round"/>
<polygon points="140.6,127.5 150.5,125.9 157.0,121.8 162.0,122.6 166.0,125.0 166.8,134.0 162.0,135.7 153.7,132.5 147.2,130.8 142.3,130.0" fill="#7a7a7a"/>
</g></g></g></g>
<g clip-path="url(#swclip)"><g transform="rotate(-36 90 90)"><g filter="url(#fb2)"><g transform="rotate(36 90 90)">
<rect x="0" y="0" width="200" height="200" fill="#909090"/>
<polyline points="10.0,80.0 22.5,84.2 34.0,87.5 41.5,93.0" fill="none" stroke="#cccccc" stroke-width="7.5" stroke-linecap="round" stroke-linejoin="round"/>
<polyline points="14.0,82.5 24.0,86.0 34.0,89.5 40.0,94.0" fill="none" stroke="#e6e6e6" stroke-width="3.2" stroke-linecap="round" stroke-linejoin="round"/>
<ellipse cx="38" cy="107" rx="9" ry="14" transform="rotate(-25 38 107)" fill="#5e5e5e"/>
<ellipse cx="54" cy="98" rx="8" ry="9" fill="#808080"/>
<polyline points="40.0,116.0 56.0,120.0 72.0,124.0 85.0,126.0" fill="none" stroke="#b8b8b8" stroke-width="9" stroke-linecap="round" stroke-linejoin="round"/>
<polyline points="56.0,128.0 68.0,124.0 80.0,121.0" fill="none" stroke="#cccccc" stroke-width="5" stroke-linecap="round" stroke-linejoin="round"/>
<polyline points="44.0,138.0 52.0,146.0 60.0,156.0" fill="none" stroke="#c7c7c7" stroke-width="9" stroke-linecap="round" stroke-linejoin="round"/>
<polyline points="50.0,137.5 64.0,139.5 80.0,141.0" fill="none" stroke="#e6e6e6" stroke-width="8.5" stroke-linecap="round" stroke-linejoin="round"/>
<polyline points="58.0,133.0 70.0,133.0 82.0,134.0" fill="none" stroke="#cccccc" stroke-width="3.5" stroke-linecap="round" stroke-linejoin="round"/>
<ellipse cx="76" cy="154" rx="17" ry="8" transform="rotate(-15 76 154)" fill="#8c8c8c"/>
<polyline points="64.0,169.0 72.0,169.0 81.0,166.0" fill="none" stroke="#d9d9d9" stroke-width="6" stroke-linecap="round" stroke-linejoin="round"/>
</g></g></g></g>
</g>
<g fill="none" stroke="#111" stroke-width="0.8" stroke-linejoin="round">
<polygon points="32.3,57.5 32.8,55.0 36.0,51.4 39.5,46.5 45.5,38.5 50.0,36.0 57.2,34.2 63.7,29.8 68.8,22.5 78.3,15.2 84.1,10.1 87.9,9.0 89.7,6.0 91.5,10.5 96.0,11.4 101.0,15.0 108.2,21.8 110.5,25.0 113.7,30.0 118.0,32.5 124.6,32.8 131.0,38.2 129.0,46.4 132.8,58.3 137.0,65.0 140.0,68.3 145.4,86.4 147.6,91.9 155.2,97.3 164.0,109.3 167.3,119.2 166.2,126.8 167.3,135.6 172.5,143.0 159.0,146.5 144.6,152.8 136.4,155.5 126.4,158.0 108.0,163.5 103.5,166.0 102.9,159.6 99.2,148.7 90.0,136.0 87.4,123.2 84.5,114.0 81.5,108.3 70.6,101.0 61.5,92.8 54.0,86.5 47.8,80.0 44.2,71.5 39.6,67.0 34.0,61.5 32.3,57.5"/>
<polyline points="32.3,57.5 34.0,61.5 39.6,67.0 44.2,71.5 47.8,80.0 54.0,86.5 61.5,92.8 70.6,101.0 81.5,108.3 84.5,114.0 87.4,123.2 90.0,136.0 99.2,148.7 102.9,159.6 103.5,166.0"/>
<polyline points="108.4,24.5 102.0,27.3 94.7,30.9 91.1,35.5 83.8,38.2 79.2,42.8 73.8,47.3 71.9,53.7 72.9,61.0 69.2,65.5 58.3,68.3 47.4,70.1 42.8,71.0"/>
<polyline points="50.5,36.5 55.0,44.5 50.5,54.0 45.0,64.6 42.8,71.0"/>
<polyline points="131.6,38.6 130.7,46.8 126.1,50.5 118.8,53.2 109.7,55.9 102.4,60.5 95.1,65.0 87.9,71.4 82.4,77.8 76.9,82.3 69.6,86.0 60.0,91.0"/>
<polyline points="138.0,66.9 129.8,69.5 124.3,74.1 118.8,79.5 111.5,82.3 105.2,86.9 100.6,92.4 92.0,98.0 84.0,103.0 79.0,106.5"/>
<polyline points="81.5,108.3 86.3,106.7 99.0,102.9 111.8,100.3 125.8,97.8 139.9,95.2 146.0,92.5"/>
<polyline points="109.3,104.1 122.0,101.6 131.0,102.9 132.2,108.0 125.8,114.3 120.7,122.0 115.6,116.9 113.1,109.2 109.3,104.1"/>
<polyline points="97.8,145.0 109.3,136.0 119.5,128.4 129.7,123.3 142.4,124.6 155.2,125.8 167.0,121.0"/>
<polyline points="99.0,148.8 114.4,143.7 129.7,136.0 145.0,133.5 157.7,136.0 168.0,137.5"/>
<polyline points="100.3,155.2 116.9,152.6 132.2,147.5 141.0,151.0"/>
<polyline points="99.0,76.0 104.0,70.0 110.0,64.0 115.0,59.5 117.5,61.5 114.0,67.0 108.0,73.0 102.0,78.0 99.0,76.0"/>
</g>
<g font-family='"Liberation Serif", serif' font-size="9.4" fill="#222">
<text x="26" y="51.6">#1</text>
<text x="109.6" y="17.3">#2</text>
<text x="132.6" y="32.3">#4</text>
<text x="140.5" y="63.7">#6</text>
<text x="172.5" y="119.8">#8</text>
<text x="140" y="169.2">#10</text>
<text x="39.6" y="95" fill-opacity="0.7">#3</text>
<text x="45.4" y="109.2" fill-opacity="0.7">#5</text>
<text x="76.4" y="142.7" fill-opacity="0.7">#7</text>
<text x="88.3" y="161.8" fill-opacity="0.7">#9</text>
</g>
<g stroke="#222" stroke-width="0.7" fill="none"><path d="M32.3 52 L35 58.2"/><path d="M113.2 17.7 L108.6 22.3"/><path d="M136.4 33.2 L131.4 38.2"/><path d="M142.8 64.3 L138.8 69.2"/><path d="M172.3 117 L167.9 122"/><path d="M143.7 161 L137.7 154.6"/><path d="M45.4 81 L43.6 89"/><path d="M54.2 104.6 L68.8 101.5"/><path d="M84.6 139.6 L90 136.9"/><path d="M96.5 157.8 L100 154"/></g>
</g>
<g fill="none" stroke="#2e2e2e" stroke-width="1.4">
<rect x="5.3" y="5.5" width="266.6" height="221.8"/>
<rect x="279.7" y="5.5" width="266.4" height="221.8"/>
<line x1="5.3" y1="180.6" x2="271.9" y2="180.6"/>
<line x1="279.7" y1="180.6" x2="546.1" y2="180.6"/>
<rect x="5.3" y="231.3" width="540.8" height="175.6"/>
<line x1="211" y1="231.3" x2="211" y2="406.9"/>
</g>
<g font-family='"Liberation Serif", serif' font-size="8.1" fill="#222">
<text x="179.8" y="13.80" text-anchor="end">[81, 90)</text>
<line x1="180.0" y1="11.00" x2="182.0" y2="11.00" stroke="#444" stroke-width="0.6"/>
<text x="183.20" y="13.90">0.00*</text>
<rect x="182.0" y="15.62" width="0.75" height="8.2" fill="#3288bd" stroke="#444" stroke-width="0.45"/>
<text x="179.8" y="22.52" text-anchor="end">[72, 81)</text>
<line x1="180.0" y1="19.72" x2="182.0" y2="19.72" stroke="#444" stroke-width="0.6"/>
<text x="183.95" y="22.62">0.29</text>
<rect x="182.0" y="24.34" width="5.78" height="8.2" fill="#66c2a5" stroke="#444" stroke-width="0.45"/>
<text x="179.8" y="31.24" text-anchor="end">[63, 72)</text>
<line x1="180.0" y1="28.44" x2="182.0" y2="28.44" stroke="#444" stroke-width="0.6"/>
<text x="188.98" y="31.34">2.23</text>
<rect x="182.0" y="33.06" width="16.26" height="8.2" fill="#abdd84" stroke="#444" stroke-width="0.45"/>
<text x="179.8" y="39.96" text-anchor="end">[54, 63)</text>
<line x1="180.0" y1="37.16" x2="182.0" y2="37.16" stroke="#444" stroke-width="0.6"/>
<text x="199.46" y="40.06">6.27</text>
<rect x="182.0" y="41.78" width="35.34" height="8.2" fill="#e6f598" stroke="#444" stroke-width="0.45"/>
<text x="179.8" y="48.68" text-anchor="end">[45, 54)</text>
<line x1="180.0" y1="45.88" x2="182.0" y2="45.88" stroke="#444" stroke-width="0.6"/>
<text x="218.54" y="48.78">13.63</text>
<rect x="182.0" y="50.50" width="65.11" height="8.2" fill="#fee08b" stroke="#444" stroke-width="0.45"/>
<text x="179.8" y="57.40" text-anchor="end">[36, 45)</text>
<line x1="180.0" y1="54.60" x2="182.0" y2="54.60" stroke="#444" stroke-width="0.6"/>
<text x="248.31" y="57.50">25.11</text>
<rect x="182.0" y="59.22" width="61.77" height="8.2" fill="#fdae61" stroke="#444" stroke-width="0.45"/>
<text x="179.8" y="66.12" text-anchor="end">[27, 36)</text>
<line x1="180.0" y1="63.32" x2="182.0" y2="63.32" stroke="#444" stroke-width="0.6"/>
<text x="244.97" y="66.22">23.82</text>
<rect x="182.0" y="67.94" width="41.62" height="8.2" fill="#f46d43" stroke="#444" stroke-width="0.45"/>
<text x="179.8" y="74.84" text-anchor="end">[18, 27)</text>
<line x1="180.0" y1="72.04" x2="182.0" y2="72.04" stroke="#444" stroke-width="0.6"/>
<text x="224.82" y="74.94">16.05</text>
<rect x="182.0" y="76.66" width="23.75" height="8.2" fill="#d53e4f" stroke="#444" stroke-width="0.45"/>
<text x="179.8" y="83.56" text-anchor="end">[9, 18)</text>
<line x1="180.0" y1="80.76" x2="182.0" y2="80.76" stroke="#444" stroke-width="0.6"/>
<text x="206.95" y="83.66">9.16</text>
<rect x="182.0" y="85.38" width="8.92" height="8.2" fill="#9e0142" stroke="#444" stroke-width="0.45"/>
<text x="179.8" y="92.28" text-anchor="end">[0, 9)</text>
<line x1="180.0" y1="89.48" x2="182.0" y2="89.48" stroke="#444" stroke-width="0.6"/>
<text x="192.12" y="92.38">3.44</text>
<line x1="182.0" y1="6" x2="182.0" y2="94.4" stroke="#555" stroke-width="0.7"/>
<line x1="182.0" y1="94.4" x2="271" y2="94.4" stroke="#555" stroke-width="0.7"/>
<line x1="182.00" y1="94.4" x2="182.00" y2="96" stroke="#555" stroke-width="0.6"/>
<text x="182.00" y="102.3" text-anchor="middle">0</text>
<line x1="194.97" y1="94.4" x2="194.97" y2="96" stroke="#555" stroke-width="0.6"/>
<text x="194.97" y="102.3" text-anchor="middle">5</text>
<line x1="207.93" y1="94.4" x2="207.93" y2="96" stroke="#555" stroke-width="0.6"/>
<text x="207.93" y="102.3" text-anchor="middle">10</text>
<line x1="220.89" y1="94.4" x2="220.89" y2="96" stroke="#555" stroke-width="0.6"/>
<text x="220.89" y="102.3" text-anchor="middle">15</text>
<line x1="233.86" y1="94.4" x2="233.86" y2="96" stroke="#555" stroke-width="0.6"/>
<text x="233.86" y="102.3" text-anchor="middle">20</text>
<line x1="246.82" y1="94.4" x2="246.82" y2="96" stroke="#555" stroke-width="0.6"/>
<text x="246.82" y="102.3" text-anchor="middle">25</text>
<line x1="259.79" y1="94.4" x2="259.79" y2="96" stroke="#555" stroke-width="0.6"/>
<text x="259.79" y="102.3" text-anchor="middle">30</text>
<text x="224.5" y="110.3" text-anchor="middle">Percentage of area (%)</text>
</g>
<g font-family='"Liberation Serif", serif' font-size="8.1" fill="#222">
<rect x="447.3" y="7.45" width="48.43" height="9.5" fill="#ff00ff" stroke="#444" stroke-width="0.45"/>
<text x="445.1" y="15.00" text-anchor="end">NW</text>
<line x1="445.3" y1="12.20" x2="447.3" y2="12.20" stroke="#444" stroke-width="0.6"/>
<text x="496.93" y="15.10">12.23</text>
<rect x="447.3" y="17.14" width="16.71" height="9.5" fill="#0000e6" stroke="#444" stroke-width="0.45"/>
<text x="445.1" y="24.69" text-anchor="end">W</text>
<line x1="445.3" y1="21.89" x2="447.3" y2="21.89" stroke="#444" stroke-width="0.6"/>
<text x="465.21" y="24.79">4.22</text>
<rect x="447.3" y="26.83" width="13.35" height="9.5" fill="#1e90f0" stroke="#444" stroke-width="0.45"/>
<text x="445.1" y="34.38" text-anchor="end">SW</text>
<line x1="445.3" y1="31.58" x2="447.3" y2="31.58" stroke="#444" stroke-width="0.6"/>
<text x="461.85" y="34.48">3.37</text>
<rect x="447.3" y="36.52" width="33.34" height="9.5" fill="#00ffff" stroke="#444" stroke-width="0.45"/>
<text x="445.1" y="44.07" text-anchor="end">S</text>
<line x1="445.3" y1="41.27" x2="447.3" y2="41.27" stroke="#444" stroke-width="0.6"/>
<text x="481.84" y="44.17">8.42</text>
<rect x="447.3" y="46.21" width="62.37" height="9.5" fill="#00e61e" stroke="#444" stroke-width="0.45"/>
<text x="445.1" y="53.76" text-anchor="end">SE</text>
<line x1="445.3" y1="50.96" x2="447.3" y2="50.96" stroke="#444" stroke-width="0.6"/>
<text x="510.87" y="53.86">15.75</text>
<rect x="447.3" y="55.90" width="75.87" height="9.5" fill="#ffff00" stroke="#444" stroke-width="0.45"/>
<text x="445.1" y="63.45" text-anchor="end">E</text>
<line x1="445.3" y1="60.65" x2="447.3" y2="60.65" stroke="#444" stroke-width="0.6"/>
<text x="524.37" y="63.55">19.16</text>
<rect x="447.3" y="65.59" width="73.50" height="9.5" fill="#ffa000" stroke="#444" stroke-width="0.45"/>
<text x="445.1" y="73.14" text-anchor="end">NE</text>
<line x1="445.3" y1="70.34" x2="447.3" y2="70.34" stroke="#444" stroke-width="0.6"/>
<text x="522.00" y="73.24">18.56</text>
<rect x="447.3" y="75.28" width="72.43" height="9.5" fill="#ff0000" stroke="#444" stroke-width="0.45"/>
<text x="445.1" y="82.83" text-anchor="end">N</text>
<line x1="445.3" y1="80.03" x2="447.3" y2="80.03" stroke="#444" stroke-width="0.6"/>
<text x="520.93" y="82.93">18.29</text>
<text x="445.1" y="92.52" text-anchor="end">Plane</text>
<line x1="445.3" y1="89.72" x2="447.3" y2="89.72" stroke="#444" stroke-width="0.6"/>
<text x="448.50" y="92.62">0.00**</text>
<line x1="447.3" y1="6" x2="447.3" y2="94.8" stroke="#555" stroke-width="0.7"/>
<line x1="447.3" y1="94.8" x2="545" y2="94.8" stroke="#555" stroke-width="0.7"/>
<line x1="447.30" y1="94.8" x2="447.30" y2="96.4" stroke="#555" stroke-width="0.6"/>
<text x="447.30" y="102.6" text-anchor="middle">0</text>
<line x1="463.14" y1="94.8" x2="463.14" y2="96.4" stroke="#555" stroke-width="0.6"/>
<text x="463.14" y="102.6" text-anchor="middle">4</text>
<line x1="478.98" y1="94.8" x2="478.98" y2="96.4" stroke="#555" stroke-width="0.6"/>
<text x="478.98" y="102.6" text-anchor="middle">8</text>
<line x1="494.82" y1="94.8" x2="494.82" y2="96.4" stroke="#555" stroke-width="0.6"/>
<text x="494.82" y="102.6" text-anchor="middle">12</text>
<line x1="510.66" y1="94.8" x2="510.66" y2="96.4" stroke="#555" stroke-width="0.6"/>
<text x="510.66" y="102.6" text-anchor="middle">16</text>
<line x1="526.50" y1="94.8" x2="526.50" y2="96.4" stroke="#555" stroke-width="0.6"/>
<text x="526.50" y="102.6" text-anchor="middle">20</text>
<text x="487.5" y="110.6" text-anchor="middle">Percentage of area (%)</text>
</g>
<g transform="translate(0,0)">
<text x="219.1" y="126.8" text-anchor="middle" font-family='"Liberation Serif", serif' font-weight="bold" font-size="11.2" fill="#111">N</text>
<path d="M218.8 129.1 L210.9 155.1 L218.8 147.3 Z" fill="#111" stroke="#111" stroke-width="0.6" stroke-linejoin="miter"/>
<path d="M218.8 129.1 L227 155.1 L218.8 147.3 Z" fill="#fff" stroke="#111" stroke-width="0.7" stroke-linejoin="miter"/>
<g font-family='"Liberation Serif", serif' font-weight="bold" font-size="8.8" fill="#222">
<text x="192.4" y="164.7" text-anchor="middle">0</text>
<text x="218.4" y="164.7" text-anchor="middle">210</text>
<text x="248.4" y="164.7" text-anchor="middle">420 m</text>
</g>
<path d="M192.4 170 V176.4 H243.7 V170 M218.4 170.8 V176.4" fill="none" stroke="#333" stroke-width="0.8"/>
</g>
<g transform="translate(274.5,0)">
<text x="219.1" y="126.8" text-anchor="middle" font-family='"Liberation Serif", serif' font-weight="bold" font-size="11.2" fill="#111">N</text>
<path d="M218.8 129.1 L210.9 155.1 L218.8 147.3 Z" fill="#111" stroke="#111" stroke-width="0.6" stroke-linejoin="miter"/>
<path d="M218.8 129.1 L227 155.1 L218.8 147.3 Z" fill="#fff" stroke="#111" stroke-width="0.7" stroke-linejoin="miter"/>
<g font-family='"Liberation Serif", serif' font-weight="bold" font-size="8.8" fill="#222">
<text x="192.4" y="164.7" text-anchor="middle">0</text>
<text x="218.4" y="164.7" text-anchor="middle">210</text>
<text x="248.4" y="164.7" text-anchor="middle">420 m</text>
</g>
<path d="M192.4 170 V176.4 H243.7 V170 M218.4 170.8 V176.4" fill="none" stroke="#333" stroke-width="0.8"/>
</g>
<g font-family='"Liberation Serif", serif' fill="#222">
<text x="20.2" y="189.4" font-size="10.6">Legend</text>
<g font-size="9.5">
<rect x="20.6" y="194.2" width="9.8" height="4.6" fill="#fff" stroke="#3d5a8c" stroke-width="0.9"/>
<text x="31.9" y="199.5">Ridges</text>
<line x1="20.4" y1="209.6" x2="29.6" y2="209.6" stroke="#333" stroke-width="1.1" stroke-dasharray="1.1 1.5"/>
<text x="31.9" y="212.1">Dividing line</text>
<text x="88.8" y="199.5">Slop (°)</text>
<rect x="88.8" y="206.9" width="9.6" height="4.2" fill="#9e0142" stroke="#666" stroke-width="0.4"/>
<text x="100.2" y="212.1">0−9</text>
<rect x="88.8" y="219.3" width="9.6" height="4.2" fill="#d53e4f" stroke="#666" stroke-width="0.4"/>
<text x="100.2" y="224.5">9−18</text>
<rect x="128.8" y="194.3" width="9.6" height="4.2" fill="#f46d43" stroke="#666" stroke-width="0.4"/>
<text x="140.2" y="199.5">18−27</text>
<rect x="128.8" y="206.9" width="9.6" height="4.2" fill="#fdae61" stroke="#666" stroke-width="0.4"/>
<text x="140.2" y="212.1">27−36</text>
<rect x="128.8" y="219.3" width="9.6" height="4.2" fill="#fee08b" stroke="#666" stroke-width="0.4"/>
<text x="140.2" y="224.5">36−45</text>
<rect x="173.3" y="194.3" width="9.6" height="4.2" fill="#e6f598" stroke="#666" stroke-width="0.4"/>
<text x="184.7" y="199.5">45−54</text>
<rect x="173.3" y="206.9" width="9.6" height="4.2" fill="#abdd84" stroke="#666" stroke-width="0.4"/>
<text x="184.7" y="212.1">54−63</text>
<rect x="173.3" y="219.3" width="9.6" height="4.2" fill="#66c2a5" stroke="#666" stroke-width="0.4"/>
<text x="184.7" y="224.5">63−72</text>
<rect x="218.7" y="194.3" width="9.6" height="4.2" fill="#3288bd" stroke="#666" stroke-width="0.4"/>
<text x="230.1" y="199.5">72−81</text>
<rect x="218.7" y="206.9" width="9.6" height="4.2" fill="#5e4fa2" stroke="#666" stroke-width="0.4"/>
<text x="230.1" y="212.1">81−90</text>
</g></g>
<g font-family='"Liberation Serif", serif' fill="#222">
<text x="282.8" y="190" font-size="10.6">Legend</text>
<g font-size="9.5">
<rect x="283" y="194.8" width="9.6" height="5" fill="#fff" stroke="#3d4a6c" stroke-width="0.9"/>
<text x="294.3" y="200.6">Ridges</text>
<line x1="282.8" y1="210.3" x2="292.6" y2="210.3" stroke="#333" stroke-width="1.1" stroke-dasharray="1.1 1.5"/>
<text x="294.6" y="212.9">Dividing line</text>
<text x="350.4" y="200.6">Aspect</text>
<rect x="351.1" y="207.5" width="9.6" height="4.6" fill="#aaaaaa" stroke="#777" stroke-width="0.3"/>
<text x="362.7" y="212.9">Plane</text>
<rect x="351.1" y="219.5" width="9.6" height="4.6" fill="#ff0000" stroke="#777" stroke-width="0.3"/>
<text x="362.7" y="224.9">North</text>
<rect x="387.9" y="195.2" width="9.6" height="4.6" fill="#ffa000" stroke="#777" stroke-width="0.3"/>
<text x="399.5" y="200.6">Northeast</text>
<rect x="387.9" y="207.5" width="9.6" height="4.6" fill="#ffff00" stroke="#777" stroke-width="0.3"/>
<text x="399.5" y="212.9">East</text>
<rect x="387.9" y="219.5" width="9.6" height="4.6" fill="#00e61e" stroke="#777" stroke-width="0.3"/>
<text x="399.5" y="224.9">Southeast</text>
<rect x="440.6" y="195.2" width="9.6" height="4.6" fill="#00ffff" stroke="#777" stroke-width="0.3"/>
<text x="452.2" y="200.6">South</text>
<rect x="440.6" y="207.5" width="9.6" height="4.6" fill="#1e90f0" stroke="#777" stroke-width="0.3"/>
<text x="452.2" y="212.9">Southwest</text>
<rect x="440.6" y="219.5" width="9.6" height="4.6" fill="#0000e6" stroke="#777" stroke-width="0.3"/>
<text x="452.2" y="224.9">West</text>
<rect x="492.1" y="195.2" width="9.6" height="4.6" fill="#ff00ff" stroke="#777" stroke-width="0.3"/>
<text x="503.7" y="200.6">Northwest</text>
</g></g>
<g stroke="#7e8160" stroke-width="0.55" fill="#d9dab0">
<rect x="40.92" y="301.20" width="1.818" height="74.80"/>
<rect x="42.74" y="271.90" width="1.818" height="104.10"/>
<rect x="44.55" y="255.80" width="1.818" height="120.20"/>
<rect x="46.37" y="252.18" width="1.818" height="123.82"/>
<rect x="48.19" y="252.51" width="1.818" height="123.49"/>
<rect x="50.01" y="255.77" width="1.818" height="120.23"/>
<rect x="51.83" y="261.31" width="1.818" height="114.69"/>
<rect x="53.64" y="265.54" width="1.818" height="110.46"/>
<rect x="55.46" y="267.70" width="1.818" height="108.30"/>
<rect x="57.28" y="267.90" width="1.818" height="108.10"/>
<rect x="59.10" y="267.17" width="1.818" height="108.83"/>
<rect x="60.92" y="265.87" width="1.818" height="110.13"/>
<rect x="62.73" y="264.24" width="1.818" height="111.76"/>
<rect x="64.55" y="262.28" width="1.818" height="113.72"/>
<rect x="66.37" y="260.49" width="1.818" height="115.51"/>
<rect x="68.19" y="258.86" width="1.818" height="117.14"/>
<rect x="70.01" y="257.56" width="1.818" height="118.44"/>
<rect x="71.82" y="256.58" width="1.818" height="119.42"/>
<rect x="73.64" y="256.09" width="1.818" height="119.91"/>
<rect x="75.46" y="256.09" width="1.818" height="119.91"/>
<rect x="77.28" y="256.09" width="1.818" height="119.91"/>
<rect x="79.10" y="256.09" width="1.818" height="119.91"/>
<rect x="80.91" y="256.00" width="1.818" height="120.00"/>
<rect x="82.73" y="255.81" width="1.818" height="120.19"/>
<rect x="84.55" y="255.63" width="1.818" height="120.37"/>
<rect x="86.37" y="255.44" width="1.818" height="120.56" fill="#d6a487" stroke="#b08a70"/>
<rect x="88.19" y="254.14" width="1.818" height="121.86"/>
<rect x="90.00" y="252.83" width="1.818" height="123.17"/>
<rect x="91.82" y="250.55" width="1.818" height="125.45"/>
<rect x="93.64" y="248.27" width="1.818" height="127.73"/>
<rect x="95.46" y="245.99" width="1.818" height="130.01"/>
<rect x="97.28" y="243.71" width="1.818" height="132.29"/>
<rect x="99.09" y="242.08" width="1.818" height="133.92"/>
<rect x="100.91" y="240.45" width="1.818" height="135.55"/>
<rect x="102.73" y="240.45" width="1.818" height="135.55"/>
<rect x="104.55" y="241.76" width="1.818" height="134.24"/>
<rect x="106.37" y="246.32" width="1.818" height="129.68"/>
<rect x="108.18" y="253.11" width="1.818" height="122.89"/>
<rect x="110.00" y="260.56" width="1.818" height="115.44"/>
<rect x="111.82" y="268.64" width="1.818" height="107.36"/>
<rect x="113.64" y="276.72" width="1.818" height="99.28"/>
<rect x="115.46" y="284.65" width="1.818" height="91.35"/>
<rect x="117.27" y="292.59" width="1.818" height="83.41"/>
<rect x="119.09" y="301.71" width="1.818" height="74.29"/>
<rect x="120.91" y="310.83" width="1.818" height="65.17"/>
<rect x="122.73" y="316.31" width="1.818" height="59.69"/>
<rect x="124.55" y="321.78" width="1.818" height="54.22"/>
<rect x="126.36" y="326.85" width="1.818" height="49.15"/>
<rect x="128.18" y="331.50" width="1.818" height="44.50"/>
<rect x="130.00" y="336.16" width="1.818" height="39.84"/>
<rect x="131.82" y="340.81" width="1.818" height="35.19"/>
<rect x="133.64" y="344.20" width="1.818" height="31.80"/>
<rect x="135.45" y="347.59" width="1.818" height="28.41"/>
<rect x="137.27" y="350.98" width="1.818" height="25.02"/>
<rect x="139.09" y="354.36" width="1.818" height="21.64"/>
<rect x="140.91" y="357.75" width="1.818" height="18.25"/>
<rect x="142.73" y="359.65" width="1.818" height="16.35"/>
<rect x="144.54" y="361.54" width="1.818" height="14.46"/>
<rect x="146.36" y="363.44" width="1.818" height="12.56"/>
<rect x="148.18" y="365.34" width="1.818" height="10.66"/>
<rect x="150.00" y="367.23" width="1.818" height="8.77"/>
<rect x="151.82" y="368.64" width="1.818" height="7.36"/>
<rect x="153.63" y="369.56" width="1.818" height="6.44"/>
<rect x="155.45" y="370.49" width="1.818" height="5.51"/>
<rect x="157.27" y="371.41" width="1.818" height="4.59"/>
<rect x="159.09" y="372.33" width="1.818" height="3.67"/>
<rect x="160.91" y="373.26" width="1.818" height="2.74"/>
<rect x="162.72" y="373.85" width="1.818" height="2.15"/>
<rect x="164.54" y="374.13" width="1.818" height="1.87"/>
<rect x="166.36" y="374.40" width="1.818" height="1.60"/>
<rect x="168.18" y="374.67" width="1.818" height="1.33"/>
<rect x="170.00" y="374.94" width="1.818" height="1.06"/>
<rect x="171.81" y="375.21" width="1.818" height="0.79"/>
<rect x="173.63" y="375.40" width="1.818" height="0.60"/>
<rect x="175.45" y="375.51" width="1.818" height="0.49"/>
<rect x="177.27" y="375.62" width="1.818" height="0.38"/>
</g>
<rect x="85.7" y="255.44" width="3.3" height="120.56" fill="#d5a68c" stroke="#b89078" stroke-width="0.4"/>
<line x1="87.17" y1="240.45" x2="87.17" y2="254.14" stroke="#d98a7a" stroke-width="0.9"/>
<polyline points="39.10,346.95 40.01,345.22 40.92,343.43 41.83,341.56 42.74,339.63 43.65,337.63 44.55,335.57 45.46,333.44 46.37,331.25 47.28,329.00 48.19,326.69 49.10,324.33 50.01,321.91 50.92,319.44 51.83,316.93 52.73,314.37 53.64,311.77 54.55,309.13 55.46,306.47 56.37,303.77 57.28,301.06 58.19,298.33 59.10,295.59 60.01,292.84 60.92,290.10 61.83,287.36 62.73,284.64 63.64,281.93 64.55,279.26 65.46,276.62 66.37,274.01 67.28,271.46 68.19,268.96 69.10,266.52 70.01,264.15 70.92,261.86 71.82,259.64 72.73,257.52 73.64,255.49 74.55,253.56 75.46,251.73 76.37,250.02 77.28,248.43 78.19,246.95 79.10,245.61 80.00,244.40 80.91,243.32 81.82,242.38 82.73,241.58 83.64,240.93 84.55,240.42 85.46,240.07 86.37,239.86 87.28,239.80 88.19,239.90 89.09,240.14 90.00,240.53 90.91,241.07 91.82,241.76 92.73,242.59 93.64,243.56 94.55,244.67 95.46,245.92 96.37,247.30 97.28,248.80 98.19,250.42 99.09,252.16 100.00,254.01 100.91,255.97 101.82,258.02 102.73,260.17 103.64,262.40 104.55,264.72 105.46,267.10 106.37,269.56 107.28,272.07 108.18,274.64 109.09,277.25 110.00,279.90 110.91,282.58 111.82,285.29 112.73,288.02 113.64,290.76 114.55,293.50 115.46,296.25 116.37,298.99 117.27,301.71 118.18,304.42 119.09,307.11 120.00,309.77 120.91,312.40 121.82,314.99 122.73,317.54 123.64,320.04 124.55,322.50 125.46,324.90 126.36,327.25 127.27,329.55 128.18,331.78 129.09,333.96 130.00,336.07 130.91,338.12 131.82,340.10 132.73,342.01 133.64,343.86 134.55,345.64 135.45,347.36 136.36,349.01 137.27,350.59 138.18,352.10 139.09,353.55 140.00,354.94 140.91,356.26 141.82,357.52 142.73,358.72 143.63,359.85 144.54,360.93 145.45,361.96 146.36,362.92 147.27,363.84 148.18,364.70 149.09,365.52 150.00,366.28 150.91,367.00 151.82,367.68 152.72,368.31 153.63,368.90 154.54,369.46 155.45,369.98 156.36,370.46 157.27,370.91 158.18,371.33 159.09,371.72 160.00,372.08 160.91,372.41 161.81,372.72 162.72,373.01 163.63,373.27 164.54,373.52 165.45,373.74 166.36,373.95 167.27,374.14 168.18,374.31 169.09,374.47 170.00,374.61 170.91,374.75 171.81,374.87 172.72,374.98 173.63,375.08 174.54,375.17 175.45,375.26 176.36,375.33 177.27,375.40 178.18,375.46 179.09,375.52 180.00,375.57 180.90,375.62 181.81,375.66 182.72,375.70 183.63,375.73 184.54,375.76 185.45,375.79 186.36,375.81 187.27,375.83 188.18,375.85 189.09,375.87 189.99,375.88 190.90,375.90 191.81,375.91 192.72,375.92 193.63,375.93 194.54,375.94 195.45,375.95 196.36,375.95 197.27,375.96 198.18,375.96 199.08,375.97 199.99,375.97 200.90,375.98 201.81,375.98 202.72,375.98" fill="none" stroke="#222" stroke-width="0.7"/>
<path d="M39.1 239.15 V376.0 H202.72" fill="none" stroke="#333" stroke-width="0.8"/>
<g font-family='"Liberation Serif", serif' font-size="8.6" fill="#222">
<line x1="37.1" y1="376.00" x2="39.1" y2="376.00" stroke="#333" stroke-width="0.7"/>
<text x="36.5" y="378.90" text-anchor="end">0.000</text>
<line x1="37.1" y1="356.45" x2="39.1" y2="356.45" stroke="#333" stroke-width="0.7"/>
<text x="36.5" y="359.35" text-anchor="end">0.003</text>
<line x1="37.1" y1="336.90" x2="39.1" y2="336.90" stroke="#333" stroke-width="0.7"/>
<text x="36.5" y="339.80" text-anchor="end">0.006</text>
<line x1="37.1" y1="317.35" x2="39.1" y2="317.35" stroke="#333" stroke-width="0.7"/>
<text x="36.5" y="320.25" text-anchor="end">0.009</text>
<line x1="37.1" y1="297.80" x2="39.1" y2="297.80" stroke="#333" stroke-width="0.7"/>
<text x="36.5" y="300.70" text-anchor="end">0.012</text>
<line x1="37.1" y1="278.25" x2="39.1" y2="278.25" stroke="#333" stroke-width="0.7"/>
<text x="36.5" y="281.15" text-anchor="end">0.015</text>
<line x1="37.1" y1="258.70" x2="39.1" y2="258.70" stroke="#333" stroke-width="0.7"/>
<text x="36.5" y="261.60" text-anchor="end">0.018</text>
<line x1="37.1" y1="239.15" x2="39.1" y2="239.15" stroke="#333" stroke-width="0.7"/>
<text x="36.5" y="242.05" text-anchor="end">0.021</text>
<line x1="39.10" y1="376.0" x2="39.10" y2="378.0" stroke="#333" stroke-width="0.7"/>
<text x="39.10" y="385.6" text-anchor="middle">0</text>
<line x1="57.28" y1="376.0" x2="57.28" y2="378.0" stroke="#333" stroke-width="0.7"/>
<text x="57.28" y="385.6" text-anchor="middle">10</text>
<line x1="75.46" y1="376.0" x2="75.46" y2="378.0" stroke="#333" stroke-width="0.7"/>
<text x="75.46" y="385.6" text-anchor="middle">20</text>
<line x1="93.64" y1="376.0" x2="93.64" y2="378.0" stroke="#333" stroke-width="0.7"/>
<text x="93.64" y="385.6" text-anchor="middle">30</text>
<line x1="111.82" y1="376.0" x2="111.82" y2="378.0" stroke="#333" stroke-width="0.7"/>
<text x="111.82" y="385.6" text-anchor="middle">40</text>
<line x1="130.00" y1="376.0" x2="130.00" y2="378.0" stroke="#333" stroke-width="0.7"/>
<text x="130.00" y="385.6" text-anchor="middle">50</text>
<line x1="148.18" y1="376.0" x2="148.18" y2="378.0" stroke="#333" stroke-width="0.7"/>
<text x="148.18" y="385.6" text-anchor="middle">60</text>
<line x1="166.36" y1="376.0" x2="166.36" y2="378.0" stroke="#333" stroke-width="0.7"/>
<text x="166.36" y="385.6" text-anchor="middle">70</text>
<line x1="184.54" y1="376.0" x2="184.54" y2="378.0" stroke="#333" stroke-width="0.7"/>
<text x="184.54" y="385.6" text-anchor="middle">80</text>
<line x1="202.72" y1="376.0" x2="202.72" y2="378.0" stroke="#333" stroke-width="0.7"/>
<text x="202.72" y="385.6" text-anchor="middle">90</text>
<text x="121" y="398.2" text-anchor="middle" font-size="8.8">Slop gradient (°)</text>
<text transform="translate(14.6,312) rotate(-90)" text-anchor="middle" font-size="8.8">Frequency (%)</text>
<text x="145" y="260.3" font-size="8.7">Min=0</text>
<text x="145" y="270.8" font-size="8.7">Max=85.27</text>
<text x="145" y="281.3" font-size="8.7">Mean=26.44</text>
<text x="145" y="291.8" font-size="8.7">kurtosis=−0.64</text>
<text x="145" y="302.3" font-size="8.7">Skewness=0.24</text>
<text x="145" y="312.8" font-size="8.7">Std Dev=15.04</text>
<text x="8.7" y="399.9" font-size="10.4">(c)</text>
</g>
<g stroke="#85864f" stroke-width="0.9" fill="#eeefb4">
<rect x="246.80" y="253.66" width="3.033" height="122.14"/>
<rect x="249.83" y="254.91" width="3.033" height="120.89"/>
<rect x="252.87" y="257.33" width="3.033" height="118.47"/>
<rect x="255.90" y="259.18" width="3.033" height="116.62"/>
<rect x="258.93" y="260.75" width="3.033" height="115.05"/>
<rect x="261.97" y="261.88" width="3.033" height="113.92"/>
<rect x="265.00" y="262.84" width="3.033" height="112.96"/>
<rect x="268.03" y="263.69" width="3.033" height="112.11"/>
<rect x="271.07" y="264.32" width="3.033" height="111.48"/>
<rect x="274.10" y="264.73" width="3.033" height="111.07"/>
<rect x="277.13" y="265.14" width="3.033" height="110.66"/>
<rect x="280.17" y="265.55" width="3.033" height="110.25"/>
<rect x="283.20" y="265.63" width="3.033" height="110.17"/>
<rect x="286.23" y="265.38" width="3.033" height="110.42"/>
<rect x="289.27" y="265.13" width="3.033" height="110.67"/>
<rect x="292.30" y="264.69" width="3.033" height="111.11"/>
<rect x="295.33" y="264.10" width="3.033" height="111.70"/>
<rect x="298.37" y="263.50" width="3.033" height="112.30"/>
<rect x="301.40" y="263.07" width="3.033" height="112.73"/>
<rect x="304.43" y="262.80" width="3.033" height="113.00"/>
<rect x="307.47" y="262.53" width="3.033" height="113.27"/>
<rect x="310.50" y="262.23" width="3.033" height="113.57"/>
<rect x="313.53" y="261.82" width="3.033" height="113.98"/>
<rect x="316.57" y="261.41" width="3.033" height="114.39"/>
<rect x="319.60" y="261.11" width="3.033" height="114.69"/>
<rect x="322.63" y="260.90" width="3.033" height="114.90"/>
<rect x="325.67" y="260.70" width="3.033" height="115.10"/>
<rect x="328.70" y="260.67" width="3.033" height="115.13"/>
<rect x="331.73" y="260.67" width="3.033" height="115.13"/>
<rect x="334.77" y="261.09" width="3.033" height="114.71"/>
<rect x="337.80" y="262.07" width="3.033" height="113.73"/>
<rect x="340.83" y="263.44" width="3.033" height="112.37"/>
<rect x="343.87" y="265.33" width="3.033" height="110.47"/>
<rect x="346.90" y="267.76" width="3.033" height="108.04"/>
<rect x="349.93" y="270.54" width="3.033" height="105.26"/>
<rect x="352.97" y="273.52" width="3.033" height="102.28"/>
<rect x="356.00" y="276.37" width="3.033" height="99.43"/>
<rect x="359.03" y="279.10" width="3.033" height="96.70"/>
<rect x="362.07" y="281.82" width="3.033" height="93.98"/>
<rect x="365.10" y="285.00" width="3.033" height="90.80"/>
<rect x="368.13" y="288.27" width="3.033" height="87.53"/>
<rect x="371.17" y="291.54" width="3.033" height="84.26"/>
<rect x="374.20" y="294.67" width="3.033" height="81.13"/>
<rect x="377.24" y="297.67" width="3.033" height="78.13"/>
<rect x="380.27" y="300.66" width="3.033" height="75.14"/>
<rect x="383.30" y="303.61" width="3.033" height="72.19"/>
<rect x="386.34" y="306.34" width="3.033" height="69.46"/>
<rect x="389.37" y="309.06" width="3.033" height="66.74"/>
<rect x="392.40" y="311.28" width="3.033" height="64.52"/>
<rect x="395.44" y="312.98" width="3.033" height="62.82"/>
<rect x="398.47" y="314.68" width="3.033" height="61.12"/>
<rect x="401.50" y="315.53" width="3.033" height="60.27"/>
<rect x="404.54" y="316.21" width="3.033" height="59.59"/>
<rect x="407.57" y="316.89" width="3.033" height="58.91"/>
<rect x="410.60" y="317.03" width="3.033" height="58.77"/>
<rect x="413.64" y="316.62" width="3.033" height="59.18"/>
<rect x="416.67" y="316.21" width="3.033" height="59.59"/>
<rect x="419.70" y="315.76" width="3.033" height="60.04"/>
<rect x="422.74" y="315.08" width="3.033" height="60.72"/>
<rect x="425.77" y="314.40" width="3.033" height="61.40"/>
<rect x="428.80" y="313.89" width="3.033" height="61.91"/>
<rect x="431.84" y="313.55" width="3.033" height="62.25"/>
<rect x="434.87" y="313.20" width="3.033" height="62.60"/>
<rect x="437.90" y="312.86" width="3.033" height="62.94"/>
<rect x="440.94" y="312.58" width="3.033" height="63.22"/>
<rect x="443.97" y="312.35" width="3.033" height="63.45"/>
<rect x="447.00" y="312.40" width="3.033" height="63.40"/>
<rect x="450.04" y="312.73" width="3.033" height="63.07"/>
<rect x="453.07" y="313.05" width="3.033" height="62.75"/>
<rect x="456.10" y="313.35" width="3.033" height="62.45"/>
<rect x="459.14" y="313.63" width="3.033" height="62.17"/>
<rect x="462.17" y="313.91" width="3.033" height="61.89"/>
<rect x="465.20" y="313.72" width="3.033" height="62.08"/>
<rect x="468.24" y="313.03" width="3.033" height="62.77"/>
<rect x="471.27" y="312.35" width="3.033" height="63.45"/>
<rect x="474.30" y="310.65" width="3.033" height="65.15"/>
<rect x="477.34" y="308.74" width="3.033" height="67.06"/>
<rect x="480.37" y="306.84" width="3.033" height="68.96"/>
<rect x="483.40" y="302.93" width="3.033" height="72.87"/>
<rect x="486.44" y="297.03" width="3.033" height="78.77"/>
<rect x="489.47" y="291.16" width="3.033" height="84.64"/>
<rect x="492.50" y="285.32" width="3.033" height="90.48"/>
<rect x="495.54" y="279.68" width="3.033" height="96.12"/>
<rect x="498.57" y="274.15" width="3.033" height="101.65"/>
<rect x="501.60" y="269.00" width="3.033" height="106.80"/>
<rect x="504.64" y="264.23" width="3.033" height="111.57"/>
<rect x="507.67" y="259.46" width="3.033" height="116.34"/>
<rect x="510.70" y="256.24" width="3.033" height="119.56"/>
<rect x="513.74" y="253.32" width="3.033" height="122.48"/>
<rect x="516.77" y="251.42" width="3.033" height="124.38"/>
<rect x="519.80" y="250.05" width="3.033" height="125.75"/>
<rect x="522.84" y="249.15" width="3.033" height="126.65"/>
<rect x="525.87" y="248.26" width="3.033" height="127.54"/>
<rect x="528.90" y="248.93" width="3.033" height="126.87"/>
<rect x="531.94" y="249.70" width="3.033" height="126.10"/>
<rect x="534.97" y="250.84" width="3.033" height="124.96"/>
</g>
<line x1="265.00" y1="236" x2="265.00" y2="375.8" stroke="#7a7a7a" stroke-width="0.8" stroke-dasharray="2.2 2"/>
<line x1="301.40" y1="236" x2="301.40" y2="375.8" stroke="#7a7a7a" stroke-width="0.8" stroke-dasharray="2.2 2"/>
<line x1="337.80" y1="236" x2="337.80" y2="375.8" stroke="#7a7a7a" stroke-width="0.8" stroke-dasharray="2.2 2"/>
<line x1="374.20" y1="236" x2="374.20" y2="375.8" stroke="#7a7a7a" stroke-width="0.8" stroke-dasharray="2.2 2"/>
<line x1="410.60" y1="236" x2="410.60" y2="375.8" stroke="#7a7a7a" stroke-width="0.8" stroke-dasharray="2.2 2"/>
<line x1="447.00" y1="236" x2="447.00" y2="375.8" stroke="#7a7a7a" stroke-width="0.8" stroke-dasharray="2.2 2"/>
<line x1="483.40" y1="236" x2="483.40" y2="375.8" stroke="#7a7a7a" stroke-width="0.8" stroke-dasharray="2.2 2"/>
<line x1="519.80" y1="236" x2="519.80" y2="375.8" stroke="#7a7a7a" stroke-width="0.8" stroke-dasharray="2.2 2"/>
<line x1="538.00" y1="236" x2="538.00" y2="375.8" stroke="#7a7a7a" stroke-width="0.8" stroke-dasharray="2.2 2"/>
<line x1="384.52" y1="236" x2="384.52" y2="375.8" stroke="#d2695a" stroke-width="0.8" stroke-dasharray="2.2 2"/>
<polyline points="246.80,336.01 249.23,334.34 251.65,332.64 254.08,330.90 256.51,329.12 258.93,327.31 261.36,325.46 263.79,323.58 266.21,321.67 268.64,319.73 271.07,317.77 273.49,315.78 275.92,313.76 278.35,311.73 280.77,309.68 283.20,307.61 285.63,305.53 288.05,303.43 290.48,301.33 292.91,299.22 295.33,297.12 297.76,295.01 300.19,292.90 302.61,290.81 305.04,288.72 307.47,286.65 309.89,284.60 312.32,282.56 314.75,280.55 317.17,278.57 319.60,276.62 322.03,274.70 324.45,272.82 326.88,270.98 329.31,269.19 331.73,267.45 334.16,265.76 336.59,264.12 339.01,262.54 341.44,261.02 343.87,259.57 346.29,258.18 348.72,256.87 351.15,255.63 353.57,254.46 356.00,253.37 358.43,252.36 360.85,251.43 363.28,250.59 365.71,249.84 368.13,249.17 370.56,248.59 372.99,248.10 375.42,247.71 377.84,247.40 380.27,247.19 382.70,247.07 385.12,247.05 387.55,247.12 389.98,247.28 392.40,247.54 394.83,247.89 397.26,248.33 399.68,248.86 402.11,249.49 404.54,250.20 406.96,251.00 409.39,251.88 411.82,252.85 414.24,253.90 416.67,255.02 419.10,256.23 421.52,257.51 423.95,258.86 426.38,260.28 428.80,261.76 431.23,263.31 433.66,264.92 436.08,266.58 438.51,268.30 440.94,270.07 443.36,271.88 445.79,273.74 448.22,275.64 450.64,277.58 453.07,279.54 455.50,281.54 457.92,283.56 460.35,285.61 462.78,287.67 465.20,289.75 467.63,291.84 470.06,293.94 472.48,296.05 474.91,298.16 477.34,300.26 479.76,302.37 482.19,304.47 484.62,306.55 487.04,308.63 489.47,310.69 491.90,312.74 494.32,314.76 496.75,316.76 499.18,318.74 501.60,320.69 504.03,322.62 506.46,324.51 508.88,326.37 511.31,328.21 513.74,330.00 516.16,331.76 518.59,333.48 521.02,335.17 523.44,336.82 525.87,338.42 528.30,339.99 530.72,341.52 533.15,343.00 535.58,344.45 538.00,345.85" fill="none" stroke="#222" stroke-width="0.7"/>
<path d="M247.70000000000002 239.60 V375.8 H538.00" fill="none" stroke="#333" stroke-width="0.8"/>
<g font-family='"Liberation Serif", serif' font-size="8.6" fill="#222">
<line x1="245.60000000000002" y1="375.80" x2="247.70000000000002" y2="375.80" stroke="#333" stroke-width="0.7"/>
<text x="243.20000000000002" y="378.70" text-anchor="end">0.000</text>
<line x1="245.60000000000002" y1="330.40" x2="247.70000000000002" y2="330.40" stroke="#333" stroke-width="0.7"/>
<text x="243.20000000000002" y="333.30" text-anchor="end">0.005</text>
<line x1="245.60000000000002" y1="285.00" x2="247.70000000000002" y2="285.00" stroke="#333" stroke-width="0.7"/>
<text x="243.20000000000002" y="287.90" text-anchor="end">0.010</text>
<line x1="245.60000000000002" y1="239.60" x2="247.70000000000002" y2="239.60" stroke="#333" stroke-width="0.7"/>
<text x="243.20000000000002" y="242.50" text-anchor="end">0.015</text>
<line x1="265.00" y1="375.8" x2="265.00" y2="377.8" stroke="#333" stroke-width="0.7"/>
<text x="265.00" y="387" text-anchor="middle">22.5</text>
<line x1="301.40" y1="375.8" x2="301.40" y2="377.8" stroke="#333" stroke-width="0.7"/>
<text x="301.40" y="387" text-anchor="middle">67.5</text>
<line x1="337.80" y1="375.8" x2="337.80" y2="377.8" stroke="#333" stroke-width="0.7"/>
<text x="337.80" y="387" text-anchor="middle">112.5</text>
<line x1="374.20" y1="375.8" x2="374.20" y2="377.8" stroke="#333" stroke-width="0.7"/>
<text x="374.20" y="387" text-anchor="middle">157.5</text>
<line x1="410.60" y1="375.8" x2="410.60" y2="377.8" stroke="#333" stroke-width="0.7"/>
<text x="410.60" y="387" text-anchor="middle">202.5</text>
<line x1="447.00" y1="375.8" x2="447.00" y2="377.8" stroke="#333" stroke-width="0.7"/>
<text x="447.00" y="387" text-anchor="middle">247.5</text>
<line x1="483.40" y1="375.8" x2="483.40" y2="377.8" stroke="#333" stroke-width="0.7"/>
<text x="483.40" y="387" text-anchor="middle">292.5</text>
<line x1="519.80" y1="375.8" x2="519.80" y2="377.8" stroke="#333" stroke-width="0.7"/>
<text x="519.80" y="387" text-anchor="middle">337.5</text>
<text x="539.50" y="387" text-anchor="middle">360</text>
<text x="255.90" y="246.2" text-anchor="middle" font-size="8.8">N</text>
<text x="283.20" y="246.2" text-anchor="middle" font-size="8.8">NE</text>
<text x="319.60" y="246.2" text-anchor="middle" font-size="8.8">E</text>
<text x="356.00" y="246.2" text-anchor="middle" font-size="8.8">SE</text>
<text x="392.40" y="246.2" text-anchor="middle" font-size="8.8">S</text>
<text x="428.80" y="246.2" text-anchor="middle" font-size="8.8">SW</text>
<text x="465.20" y="246.2" text-anchor="middle" font-size="8.8">W</text>
<text x="501.60" y="246.2" text-anchor="middle" font-size="8.8">NW</text>
<text x="529.11" y="246.2" text-anchor="middle" font-size="8.8">N</text>
<text x="392.5" y="402" text-anchor="middle" font-size="8.8">Aspect gradient (°)</text>
<text transform="translate(220.3,306) rotate(-90)" text-anchor="middle" font-size="8.8">Frequency (%)</text>
<text x="425" y="260.2" font-size="8.7">Mean=170.26</text>
<text x="425" y="270.6" font-size="8.7">kurtosis=−1.29</text>
<text x="425" y="281.0" font-size="8.7">Skewness=0.22</text>
<text x="425" y="291.4" font-size="8.7">Std Dev=111.10</text>
<text x="213.8" y="400.3" font-size="10.4">(d)</text>
</g>
<text x="8.6" y="17.7" font-family='"Liberation Serif", serif' font-size="10.4" fill="#222">(a)</text>
<text x="282.9" y="18.1" font-family='"Liberation Serif", serif' font-size="10.4" fill="#222">(b)</text>
</svg></body></html>
